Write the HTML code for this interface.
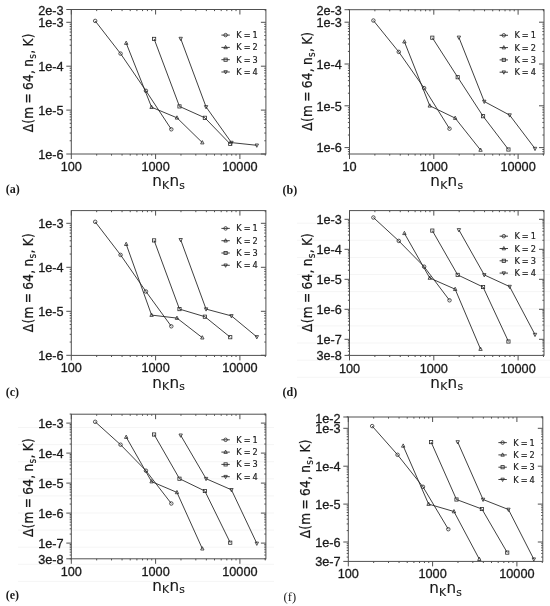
<!DOCTYPE html>
<html lang="en">
<head>
<meta charset="utf-8">
<title>Figure</title>
<style>
html,body{margin:0;padding:0;background:#fff;}
body{width:550px;height:606px;overflow:hidden;}
svg{display:block;}
text{fill:#1a1a1a;}
.tk{font-family:"Liberation Sans",Arial,Helvetica,sans-serif;font-size:12.7px;stroke:#1a1a1a;stroke-width:0.3px;}
.lg{font-family:"DejaVu Sans","Liberation Sans",sans-serif;font-size:8.2px;word-spacing:-0.6px;stroke:#1a1a1a;stroke-width:0.18px;}
.xl{font-family:"DejaVu Sans","Liberation Sans",sans-serif;font-size:15.2px;letter-spacing:0.25px;stroke:#1a1a1a;stroke-width:0.15px;}
.sb{font-size:10.8px;}
.yl{font-family:"DejaVu Sans Condensed","DejaVu Sans","Liberation Sans",sans-serif;font-size:13.5px;word-spacing:-1px;letter-spacing:0.27px;stroke:#1a1a1a;stroke-width:0.2px;}
.sb2{font-size:10px;}
.slr{font-weight:normal !important;font-size:12.5px !important;}
.sl{font-family:"Liberation Serif","DejaVu Serif",serif;font-weight:bold;font-size:12px;}
</style>
</head>
<body>
<svg width="550" height="606" viewBox="0 0 550 606">
<rect width="550" height="606" fill="#ffffff"/>
<path d="M297 223.2H550M297 240.32H550M297 257.44H550M297 274.56H550M297 291.68H550M297 308.8H550M297 325.92H550M297 343.04H550M297 360.16H550M297 377.28H550M18 427.5H274M18 444.6H274M18 461.7H274M18 478.8H274M18 495.9H274M18 513H274M18 530.1H274M18 547.2H274M18 564.3H274M18 581.4H274" stroke="#f5f5f5" stroke-width="1" fill="none"/>
<g>
<path d="M71.3 154v5M71.3 9.5v5M96.68 154v1.6M96.68 9.5v1.6M111.52 154v1.6M111.52 9.5v1.6M122.05 154v1.6M122.05 9.5v1.6M130.22 154v1.6M130.22 9.5v1.6M136.9 154v1.6M136.9 9.5v1.6M142.54 154v1.6M142.54 9.5v1.6M147.43 154v1.6M147.43 9.5v1.6M151.74 154v1.6M151.74 9.5v1.6M155.6 154v5M155.6 9.5v5M180.98 154v1.6M180.98 9.5v1.6M195.82 154v1.6M195.82 9.5v1.6M206.35 154v1.6M206.35 9.5v1.6M214.52 154v1.6M214.52 9.5v1.6M221.2 154v1.6M221.2 9.5v1.6M226.84 154v1.6M226.84 9.5v1.6M231.73 154v1.6M231.73 9.5v1.6M236.04 154v1.6M236.04 9.5v1.6M239.9 154v5M239.9 9.5v5M265.28 154v1.6M265.28 9.5v1.6M71.3 154h-5M265.9 154h-5M71.3 140.78h-1.6M265.9 140.78h-1.6M71.3 133.05h-1.6M265.9 133.05h-1.6M71.3 127.57h-1.6M265.9 127.57h-1.6M71.3 123.32h-1.6M265.9 123.32h-1.6M71.3 119.84h-1.6M265.9 119.84h-1.6M71.3 116.9h-1.6M265.9 116.9h-1.6M71.3 114.35h-1.6M265.9 114.35h-1.6M71.3 112.11h-1.6M265.9 112.11h-1.6M71.3 110.1h-5M265.9 110.1h-5M71.3 96.88h-1.6M265.9 96.88h-1.6M71.3 89.15h-1.6M265.9 89.15h-1.6M71.3 83.67h-1.6M265.9 83.67h-1.6M71.3 79.42h-1.6M265.9 79.42h-1.6M71.3 75.94h-1.6M265.9 75.94h-1.6M71.3 73h-1.6M265.9 73h-1.6M71.3 70.45h-1.6M265.9 70.45h-1.6M71.3 68.21h-1.6M265.9 68.21h-1.6M71.3 66.2h-5M265.9 66.2h-5M71.3 52.98h-1.6M265.9 52.98h-1.6M71.3 45.25h-1.6M265.9 45.25h-1.6M71.3 39.77h-1.6M265.9 39.77h-1.6M71.3 35.52h-1.6M265.9 35.52h-1.6M71.3 32.04h-1.6M265.9 32.04h-1.6M71.3 29.1h-1.6M265.9 29.1h-1.6M71.3 26.55h-1.6M265.9 26.55h-1.6M71.3 24.31h-1.6M265.9 24.31h-1.6M71.3 22.3h-5M265.9 22.3h-5M71.3 9.5h-5" stroke="#505050" stroke-width="1" fill="none"/>
<rect x="71.3" y="9.5" width="194.6" height="144.5" fill="none" stroke="#505050" stroke-width="1"/>
<polyline points="95.18,20.9 120.56,53.6 145.94,90.8 171.31,129.3" fill="none" stroke="#2a2a2a" stroke-width="0.9"/>
<circle cx="95.18" cy="20.9" r="1.75" fill="none" stroke="#2a2a2a" stroke-width="0.8"/>
<circle cx="120.56" cy="53.6" r="1.75" fill="none" stroke="#2a2a2a" stroke-width="0.8"/>
<circle cx="145.94" cy="90.8" r="1.75" fill="none" stroke="#2a2a2a" stroke-width="0.8"/>
<circle cx="171.31" cy="129.3" r="1.75" fill="none" stroke="#2a2a2a" stroke-width="0.8"/>
<polyline points="126.2,43.1 151.58,107.2 176.96,117.8 202.33,142.6" fill="none" stroke="#2a2a2a" stroke-width="0.9"/>
<path d="M124.5 44.4L127.9 44.4L126.2 41.1Z" fill="none" stroke="#2a2a2a" stroke-width="0.8"/>
<path d="M149.88 108.5L153.28 108.5L151.58 105.2Z" fill="none" stroke="#2a2a2a" stroke-width="0.8"/>
<path d="M175.26 119.1L178.66 119.1L176.96 115.8Z" fill="none" stroke="#2a2a2a" stroke-width="0.8"/>
<path d="M200.63 143.9L204.03 143.9L202.33 140.6Z" fill="none" stroke="#2a2a2a" stroke-width="0.8"/>
<polyline points="154.11,38.9 179.48,106.4 204.86,117.8 230.24,144" fill="none" stroke="#2a2a2a" stroke-width="0.9"/>
<rect x="152.51" y="37.3" width="3.2" height="3.2" fill="none" stroke="#2a2a2a" stroke-width="0.8"/>
<rect x="177.88" y="104.8" width="3.2" height="3.2" fill="none" stroke="#2a2a2a" stroke-width="0.8"/>
<rect x="203.26" y="116.2" width="3.2" height="3.2" fill="none" stroke="#2a2a2a" stroke-width="0.8"/>
<rect x="228.64" y="142.4" width="3.2" height="3.2" fill="none" stroke="#2a2a2a" stroke-width="0.8"/>
<polyline points="180.68,38.6 206.06,106.9 231.44,142.6 256.81,145.3" fill="none" stroke="#2a2a2a" stroke-width="0.9"/>
<path d="M178.98 37.3L182.38 37.3L180.68 40.6Z" fill="none" stroke="#2a2a2a" stroke-width="0.8"/>
<path d="M204.36 105.6L207.76 105.6L206.06 108.9Z" fill="none" stroke="#2a2a2a" stroke-width="0.8"/>
<path d="M229.74 141.3L233.14 141.3L231.44 144.6Z" fill="none" stroke="#2a2a2a" stroke-width="0.8"/>
<path d="M255.11 144L258.51 144L256.81 147.3Z" fill="none" stroke="#2a2a2a" stroke-width="0.8"/>
<path d="M221.4 35.1h8.4" stroke="#2a2a2a" stroke-width="0.9" fill="none"/>
<circle cx="225.6" cy="35.1" r="1.75" fill="none" stroke="#2a2a2a" stroke-width="0.8"/>
<text x="236.3" y="38.1" class="lg">K = 1</text>
<path d="M221.4 47.4h8.4" stroke="#2a2a2a" stroke-width="0.9" fill="none"/>
<path d="M223.9 48.7L227.3 48.7L225.6 45.4Z" fill="none" stroke="#2a2a2a" stroke-width="0.8"/>
<text x="236.3" y="50.4" class="lg">K = 2</text>
<path d="M221.4 59.7h8.4" stroke="#2a2a2a" stroke-width="0.9" fill="none"/>
<rect x="224" y="58.1" width="3.2" height="3.2" fill="none" stroke="#2a2a2a" stroke-width="0.8"/>
<text x="236.3" y="62.7" class="lg">K = 3</text>
<path d="M221.4 72h8.4" stroke="#2a2a2a" stroke-width="0.9" fill="none"/>
<path d="M223.9 70.7L227.3 70.7L225.6 74Z" fill="none" stroke="#2a2a2a" stroke-width="0.8"/>
<text x="236.3" y="75" class="lg">K = 4</text>
<text x="63.6" y="15" class="tk" text-anchor="end">2e-3</text>
<text x="63.6" y="27.05" class="tk" text-anchor="end">1e-3</text>
<text x="63.6" y="70.95" class="tk" text-anchor="end">1e-4</text>
<text x="63.6" y="114.85" class="tk" text-anchor="end">1e-5</text>
<text x="63.6" y="158.75" class="tk" text-anchor="end">1e-6</text>
<text x="71.3" y="170.7" class="tk" text-anchor="middle">100</text>
<text x="155.6" y="170.7" class="tk" text-anchor="middle">1000</text>
<text x="239.9" y="170.7" class="tk" text-anchor="middle">10000</text>
<text x="168.7" y="186.3" class="xl" text-anchor="middle">n<tspan class="sb" dy="2.6">K</tspan><tspan dy="-2.6">n</tspan><tspan class="sb" dy="2.6">s</tspan></text>
<text transform="translate(32.6 82.75) rotate(-90)" class="yl" text-anchor="middle">Δ(m = 64, n<tspan class="sb2" dy="3">s</tspan><tspan dy="-3">, K)</tspan></text>
<text x="5.8" y="193.3" class="sl">(a)</text>
</g>
<g>
<path d="M349.5 154v5M349.5 9.7v5M374.88 154v1.6M374.88 9.7v1.6M389.72 154v1.6M389.72 9.7v1.6M400.25 154v1.6M400.25 9.7v1.6M408.42 154v1.6M408.42 9.7v1.6M415.1 154v1.6M415.1 9.7v1.6M420.74 154v1.6M420.74 9.7v1.6M425.63 154v1.6M425.63 9.7v1.6M429.94 154v1.6M429.94 9.7v1.6M433.8 154v5M433.8 9.7v5M459.18 154v1.6M459.18 9.7v1.6M474.02 154v1.6M474.02 9.7v1.6M484.55 154v1.6M484.55 9.7v1.6M492.72 154v1.6M492.72 9.7v1.6M499.4 154v1.6M499.4 9.7v1.6M505.04 154v1.6M505.04 9.7v1.6M509.93 154v1.6M509.93 9.7v1.6M514.24 154v1.6M514.24 9.7v1.6M518.1 154v5M518.1 9.7v5M543.48 154v1.6M543.48 9.7v1.6M349.5 154.07h-1.6M544 154.07h-1.6M349.5 151.65h-1.6M544 151.65h-1.6M349.5 149.51h-1.6M544 149.51h-1.6M349.5 147.6h-5M544 147.6h-5M349.5 135.02h-1.6M544 135.02h-1.6M349.5 127.66h-1.6M544 127.66h-1.6M349.5 122.43h-1.6M544 122.43h-1.6M349.5 118.38h-1.6M544 118.38h-1.6M349.5 115.07h-1.6M544 115.07h-1.6M349.5 112.27h-1.6M544 112.27h-1.6M349.5 109.85h-1.6M544 109.85h-1.6M349.5 107.71h-1.6M544 107.71h-1.6M349.5 105.8h-5M544 105.8h-5M349.5 93.22h-1.6M544 93.22h-1.6M349.5 85.86h-1.6M544 85.86h-1.6M349.5 80.63h-1.6M544 80.63h-1.6M349.5 76.58h-1.6M544 76.58h-1.6M349.5 73.27h-1.6M544 73.27h-1.6M349.5 70.47h-1.6M544 70.47h-1.6M349.5 68.05h-1.6M544 68.05h-1.6M349.5 65.91h-1.6M544 65.91h-1.6M349.5 64h-5M544 64h-5M349.5 51.42h-1.6M544 51.42h-1.6M349.5 44.06h-1.6M544 44.06h-1.6M349.5 38.83h-1.6M544 38.83h-1.6M349.5 34.78h-1.6M544 34.78h-1.6M349.5 31.47h-1.6M544 31.47h-1.6M349.5 28.67h-1.6M544 28.67h-1.6M349.5 26.25h-1.6M544 26.25h-1.6M349.5 24.11h-1.6M544 24.11h-1.6M349.5 22.2h-5M544 22.2h-5M349.5 9.62h-1.6M544 9.62h-1.6M349.5 9.7h-5" stroke="#505050" stroke-width="1" fill="none"/>
<rect x="349.5" y="9.7" width="194.5" height="144.3" fill="none" stroke="#505050" stroke-width="1"/>
<polyline points="373.38,20.5 398.76,51.9 424.14,88.1 449.51,128.7" fill="none" stroke="#2a2a2a" stroke-width="0.9"/>
<circle cx="373.38" cy="20.5" r="1.75" fill="none" stroke="#2a2a2a" stroke-width="0.8"/>
<circle cx="398.76" cy="51.9" r="1.75" fill="none" stroke="#2a2a2a" stroke-width="0.8"/>
<circle cx="424.14" cy="88.1" r="1.75" fill="none" stroke="#2a2a2a" stroke-width="0.8"/>
<circle cx="449.51" cy="128.7" r="1.75" fill="none" stroke="#2a2a2a" stroke-width="0.8"/>
<polyline points="404.4,41.7 429.78,105.8 455.16,118.1 480.53,150" fill="none" stroke="#2a2a2a" stroke-width="0.9"/>
<path d="M402.7 43L406.1 43L404.4 39.7Z" fill="none" stroke="#2a2a2a" stroke-width="0.8"/>
<path d="M428.08 107.1L431.48 107.1L429.78 103.8Z" fill="none" stroke="#2a2a2a" stroke-width="0.8"/>
<path d="M453.46 119.4L456.86 119.4L455.16 116.1Z" fill="none" stroke="#2a2a2a" stroke-width="0.8"/>
<path d="M478.83 151.3L482.23 151.3L480.53 148Z" fill="none" stroke="#2a2a2a" stroke-width="0.8"/>
<polyline points="432.31,37.7 457.68,77.2 483.06,116.2 508.44,149.5" fill="none" stroke="#2a2a2a" stroke-width="0.9"/>
<rect x="430.71" y="36.1" width="3.2" height="3.2" fill="none" stroke="#2a2a2a" stroke-width="0.8"/>
<rect x="456.08" y="75.6" width="3.2" height="3.2" fill="none" stroke="#2a2a2a" stroke-width="0.8"/>
<rect x="481.46" y="114.6" width="3.2" height="3.2" fill="none" stroke="#2a2a2a" stroke-width="0.8"/>
<rect x="506.84" y="147.9" width="3.2" height="3.2" fill="none" stroke="#2a2a2a" stroke-width="0.8"/>
<polyline points="458.88,37.4 484.26,101.5 509.64,115.1 535.01,148.6" fill="none" stroke="#2a2a2a" stroke-width="0.9"/>
<path d="M457.18 36.1L460.58 36.1L458.88 39.4Z" fill="none" stroke="#2a2a2a" stroke-width="0.8"/>
<path d="M482.56 100.2L485.96 100.2L484.26 103.5Z" fill="none" stroke="#2a2a2a" stroke-width="0.8"/>
<path d="M507.94 113.8L511.34 113.8L509.64 117.1Z" fill="none" stroke="#2a2a2a" stroke-width="0.8"/>
<path d="M533.31 147.3L536.71 147.3L535.01 150.6Z" fill="none" stroke="#2a2a2a" stroke-width="0.8"/>
<path d="M499.6 35.3h8.4" stroke="#2a2a2a" stroke-width="0.9" fill="none"/>
<circle cx="503.8" cy="35.3" r="1.75" fill="none" stroke="#2a2a2a" stroke-width="0.8"/>
<text x="514.5" y="38.3" class="lg">K = 1</text>
<path d="M499.6 47.6h8.4" stroke="#2a2a2a" stroke-width="0.9" fill="none"/>
<path d="M502.1 48.9L505.5 48.9L503.8 45.6Z" fill="none" stroke="#2a2a2a" stroke-width="0.8"/>
<text x="514.5" y="50.6" class="lg">K = 2</text>
<path d="M499.6 59.9h8.4" stroke="#2a2a2a" stroke-width="0.9" fill="none"/>
<rect x="502.2" y="58.3" width="3.2" height="3.2" fill="none" stroke="#2a2a2a" stroke-width="0.8"/>
<text x="514.5" y="62.9" class="lg">K = 3</text>
<path d="M499.6 72.2h8.4" stroke="#2a2a2a" stroke-width="0.9" fill="none"/>
<path d="M502.1 70.9L505.5 70.9L503.8 74.2Z" fill="none" stroke="#2a2a2a" stroke-width="0.8"/>
<text x="514.5" y="75.2" class="lg">K = 4</text>
<text x="341.8" y="15.2" class="tk" text-anchor="end">2e-3</text>
<text x="341.8" y="26.95" class="tk" text-anchor="end">1e-3</text>
<text x="341.8" y="68.75" class="tk" text-anchor="end">1e-4</text>
<text x="341.8" y="110.55" class="tk" text-anchor="end">1e-5</text>
<text x="341.8" y="152.35" class="tk" text-anchor="end">1e-6</text>
<text x="349.5" y="170.6" class="tk" text-anchor="middle">10</text>
<text x="433.8" y="170.6" class="tk" text-anchor="middle">1000</text>
<text x="518.1" y="170.6" class="tk" text-anchor="middle">10000</text>
<text x="446.85" y="186.3" class="xl" text-anchor="middle">n<tspan class="sb" dy="2.6">K</tspan><tspan dy="-2.6">n</tspan><tspan class="sb" dy="2.6">s</tspan></text>
<text transform="translate(312.1 81.15) rotate(-90)" class="yl" text-anchor="middle">Δ(m = 64, n<tspan class="sb2" dy="3">s</tspan><tspan dy="-3">, K)</tspan></text>
<text x="282.6" y="194.3" class="sl">(b)</text>
</g>
<g>
<path d="M71.3 355.4v5M71.3 210.6v5M96.68 355.4v1.6M96.68 210.6v1.6M111.52 355.4v1.6M111.52 210.6v1.6M122.05 355.4v1.6M122.05 210.6v1.6M130.22 355.4v1.6M130.22 210.6v1.6M136.9 355.4v1.6M136.9 210.6v1.6M142.54 355.4v1.6M142.54 210.6v1.6M147.43 355.4v1.6M147.43 210.6v1.6M151.74 355.4v1.6M151.74 210.6v1.6M155.6 355.4v5M155.6 210.6v5M180.98 355.4v1.6M180.98 210.6v1.6M195.82 355.4v1.6M195.82 210.6v1.6M206.35 355.4v1.6M206.35 210.6v1.6M214.52 355.4v1.6M214.52 210.6v1.6M221.2 355.4v1.6M221.2 210.6v1.6M226.84 355.4v1.6M226.84 210.6v1.6M231.73 355.4v1.6M231.73 210.6v1.6M236.04 355.4v1.6M236.04 210.6v1.6M239.9 355.4v5M239.9 210.6v5M265.28 355.4v1.6M265.28 210.6v1.6M71.3 355.3h-5M265.9 355.3h-5M71.3 342.05h-1.6M265.9 342.05h-1.6M71.3 334.31h-1.6M265.9 334.31h-1.6M71.3 328.81h-1.6M265.9 328.81h-1.6M71.3 324.55h-1.6M265.9 324.55h-1.6M71.3 321.06h-1.6M265.9 321.06h-1.6M71.3 318.12h-1.6M265.9 318.12h-1.6M71.3 315.56h-1.6M265.9 315.56h-1.6M71.3 313.31h-1.6M265.9 313.31h-1.6M71.3 311.3h-5M265.9 311.3h-5M71.3 298.05h-1.6M265.9 298.05h-1.6M71.3 290.31h-1.6M265.9 290.31h-1.6M71.3 284.81h-1.6M265.9 284.81h-1.6M71.3 280.55h-1.6M265.9 280.55h-1.6M71.3 277.06h-1.6M265.9 277.06h-1.6M71.3 274.12h-1.6M265.9 274.12h-1.6M71.3 271.56h-1.6M265.9 271.56h-1.6M71.3 269.31h-1.6M265.9 269.31h-1.6M71.3 267.3h-5M265.9 267.3h-5M71.3 254.05h-1.6M265.9 254.05h-1.6M71.3 246.31h-1.6M265.9 246.31h-1.6M71.3 240.81h-1.6M265.9 240.81h-1.6M71.3 236.55h-1.6M265.9 236.55h-1.6M71.3 233.06h-1.6M265.9 233.06h-1.6M71.3 230.12h-1.6M265.9 230.12h-1.6M71.3 227.56h-1.6M265.9 227.56h-1.6M71.3 225.31h-1.6M265.9 225.31h-1.6M71.3 223.3h-5M265.9 223.3h-5" stroke="#505050" stroke-width="1" fill="none"/>
<rect x="71.3" y="210.6" width="194.6" height="144.8" fill="none" stroke="#505050" stroke-width="1"/>
<polyline points="95.18,221.8 120.56,254.9 145.94,291.5 171.31,326.3" fill="none" stroke="#2a2a2a" stroke-width="0.9"/>
<circle cx="95.18" cy="221.8" r="1.75" fill="none" stroke="#2a2a2a" stroke-width="0.8"/>
<circle cx="120.56" cy="254.9" r="1.75" fill="none" stroke="#2a2a2a" stroke-width="0.8"/>
<circle cx="145.94" cy="291.5" r="1.75" fill="none" stroke="#2a2a2a" stroke-width="0.8"/>
<circle cx="171.31" cy="326.3" r="1.75" fill="none" stroke="#2a2a2a" stroke-width="0.8"/>
<polyline points="126.2,244.2 151.58,315.1 176.96,318.1 202.33,337.7" fill="none" stroke="#2a2a2a" stroke-width="0.9"/>
<path d="M124.5 245.5L127.9 245.5L126.2 242.2Z" fill="none" stroke="#2a2a2a" stroke-width="0.8"/>
<path d="M149.88 316.4L153.28 316.4L151.58 313.1Z" fill="none" stroke="#2a2a2a" stroke-width="0.8"/>
<path d="M175.26 319.4L178.66 319.4L176.96 316.1Z" fill="none" stroke="#2a2a2a" stroke-width="0.8"/>
<path d="M200.63 339L204.03 339L202.33 335.7Z" fill="none" stroke="#2a2a2a" stroke-width="0.8"/>
<polyline points="154.11,240.4 179.48,309.1 204.86,316.7 230.24,337.2" fill="none" stroke="#2a2a2a" stroke-width="0.9"/>
<rect x="152.51" y="238.8" width="3.2" height="3.2" fill="none" stroke="#2a2a2a" stroke-width="0.8"/>
<rect x="177.88" y="307.5" width="3.2" height="3.2" fill="none" stroke="#2a2a2a" stroke-width="0.8"/>
<rect x="203.26" y="315.1" width="3.2" height="3.2" fill="none" stroke="#2a2a2a" stroke-width="0.8"/>
<rect x="228.64" y="335.6" width="3.2" height="3.2" fill="none" stroke="#2a2a2a" stroke-width="0.8"/>
<polyline points="180.68,239.8 206.06,309.1 231.44,315.9 256.81,336.9" fill="none" stroke="#2a2a2a" stroke-width="0.9"/>
<path d="M178.98 238.5L182.38 238.5L180.68 241.8Z" fill="none" stroke="#2a2a2a" stroke-width="0.8"/>
<path d="M204.36 307.8L207.76 307.8L206.06 311.1Z" fill="none" stroke="#2a2a2a" stroke-width="0.8"/>
<path d="M229.74 314.6L233.14 314.6L231.44 317.9Z" fill="none" stroke="#2a2a2a" stroke-width="0.8"/>
<path d="M255.11 335.6L258.51 335.6L256.81 338.9Z" fill="none" stroke="#2a2a2a" stroke-width="0.8"/>
<path d="M221.4 228.4h8.4" stroke="#2a2a2a" stroke-width="0.9" fill="none"/>
<circle cx="225.6" cy="228.4" r="1.75" fill="none" stroke="#2a2a2a" stroke-width="0.8"/>
<text x="236.3" y="231.4" class="lg">K = 1</text>
<path d="M221.4 240.7h8.4" stroke="#2a2a2a" stroke-width="0.9" fill="none"/>
<path d="M223.9 242L227.3 242L225.6 238.7Z" fill="none" stroke="#2a2a2a" stroke-width="0.8"/>
<text x="236.3" y="243.7" class="lg">K = 2</text>
<path d="M221.4 253h8.4" stroke="#2a2a2a" stroke-width="0.9" fill="none"/>
<rect x="224" y="251.4" width="3.2" height="3.2" fill="none" stroke="#2a2a2a" stroke-width="0.8"/>
<text x="236.3" y="256" class="lg">K = 3</text>
<path d="M221.4 265.3h8.4" stroke="#2a2a2a" stroke-width="0.9" fill="none"/>
<path d="M223.9 264L227.3 264L225.6 267.3Z" fill="none" stroke="#2a2a2a" stroke-width="0.8"/>
<text x="236.3" y="268.3" class="lg">K = 4</text>
<text x="63.6" y="228.05" class="tk" text-anchor="end">1e-3</text>
<text x="63.6" y="272.05" class="tk" text-anchor="end">1e-4</text>
<text x="63.6" y="316.05" class="tk" text-anchor="end">1e-5</text>
<text x="63.6" y="360.05" class="tk" text-anchor="end">1e-6</text>
<text x="71.3" y="372.1" class="tk" text-anchor="middle">100</text>
<text x="155.6" y="372.1" class="tk" text-anchor="middle">1000</text>
<text x="239.9" y="372.1" class="tk" text-anchor="middle">10000</text>
<text x="168.7" y="387.7" class="xl" text-anchor="middle">n<tspan class="sb" dy="2.6">K</tspan><tspan dy="-2.6">n</tspan><tspan class="sb" dy="2.6">s</tspan></text>
<text transform="translate(32.6 282.6) rotate(-90)" class="yl" text-anchor="middle">Δ(m = 64, n<tspan class="sb2" dy="3">s</tspan><tspan dy="-3">, K)</tspan></text>
<text x="5.8" y="395.8" class="sl">(c)</text>
</g>
<g>
<path d="M349.5 355.4v5M349.5 210.6v5M374.88 355.4v1.6M374.88 210.6v1.6M389.72 355.4v1.6M389.72 210.6v1.6M400.25 355.4v1.6M400.25 210.6v1.6M408.42 355.4v1.6M408.42 210.6v1.6M415.1 355.4v1.6M415.1 210.6v1.6M420.74 355.4v1.6M420.74 210.6v1.6M425.63 355.4v1.6M425.63 210.6v1.6M429.94 355.4v1.6M429.94 210.6v1.6M433.8 355.4v5M433.8 210.6v5M459.18 355.4v1.6M459.18 210.6v1.6M474.02 355.4v1.6M474.02 210.6v1.6M484.55 355.4v1.6M484.55 210.6v1.6M492.72 355.4v1.6M492.72 210.6v1.6M499.4 355.4v1.6M499.4 210.6v1.6M505.04 355.4v1.6M505.04 210.6v1.6M509.93 355.4v1.6M509.93 210.6v1.6M514.24 355.4v1.6M514.24 210.6v1.6M518.1 355.4v5M518.1 210.6v5M543.48 355.4v1.6M543.48 210.6v1.6M349.5 354.99h-1.6M544 354.99h-1.6M349.5 351.24h-1.6M544 351.24h-1.6M349.5 348.33h-1.6M544 348.33h-1.6M349.5 345.96h-1.6M544 345.96h-1.6M349.5 343.95h-1.6M544 343.95h-1.6M349.5 342.21h-1.6M544 342.21h-1.6M349.5 340.67h-1.6M544 340.67h-1.6M349.5 339.3h-5M544 339.3h-5M349.5 330.27h-1.6M544 330.27h-1.6M349.5 324.99h-1.6M544 324.99h-1.6M349.5 321.24h-1.6M544 321.24h-1.6M349.5 318.33h-1.6M544 318.33h-1.6M349.5 315.96h-1.6M544 315.96h-1.6M349.5 313.95h-1.6M544 313.95h-1.6M349.5 312.21h-1.6M544 312.21h-1.6M349.5 310.67h-1.6M544 310.67h-1.6M349.5 309.3h-5M544 309.3h-5M349.5 300.27h-1.6M544 300.27h-1.6M349.5 294.99h-1.6M544 294.99h-1.6M349.5 291.24h-1.6M544 291.24h-1.6M349.5 288.33h-1.6M544 288.33h-1.6M349.5 285.96h-1.6M544 285.96h-1.6M349.5 283.95h-1.6M544 283.95h-1.6M349.5 282.21h-1.6M544 282.21h-1.6M349.5 280.67h-1.6M544 280.67h-1.6M349.5 279.3h-5M544 279.3h-5M349.5 270.27h-1.6M544 270.27h-1.6M349.5 264.99h-1.6M544 264.99h-1.6M349.5 261.24h-1.6M544 261.24h-1.6M349.5 258.33h-1.6M544 258.33h-1.6M349.5 255.96h-1.6M544 255.96h-1.6M349.5 253.95h-1.6M544 253.95h-1.6M349.5 252.21h-1.6M544 252.21h-1.6M349.5 250.67h-1.6M544 250.67h-1.6M349.5 249.3h-5M544 249.3h-5M349.5 240.27h-1.6M544 240.27h-1.6M349.5 234.99h-1.6M544 234.99h-1.6M349.5 231.24h-1.6M544 231.24h-1.6M349.5 228.33h-1.6M544 228.33h-1.6M349.5 225.96h-1.6M544 225.96h-1.6M349.5 223.95h-1.6M544 223.95h-1.6M349.5 222.21h-1.6M544 222.21h-1.6M349.5 220.67h-1.6M544 220.67h-1.6M349.5 219.3h-5M544 219.3h-5M349.5 355.4h-5" stroke="#505050" stroke-width="1" fill="none"/>
<rect x="349.5" y="210.6" width="194.5" height="144.8" fill="none" stroke="#505050" stroke-width="1"/>
<polyline points="373.38,217.5 398.76,240.9 424.14,266.7 449.51,300.3" fill="none" stroke="#2a2a2a" stroke-width="0.9"/>
<circle cx="373.38" cy="217.5" r="1.75" fill="none" stroke="#2a2a2a" stroke-width="0.8"/>
<circle cx="398.76" cy="240.9" r="1.75" fill="none" stroke="#2a2a2a" stroke-width="0.8"/>
<circle cx="424.14" cy="266.7" r="1.75" fill="none" stroke="#2a2a2a" stroke-width="0.8"/>
<circle cx="449.51" cy="300.3" r="1.75" fill="none" stroke="#2a2a2a" stroke-width="0.8"/>
<polyline points="404.4,233.3 429.78,278 455.16,289.2 480.53,349.1" fill="none" stroke="#2a2a2a" stroke-width="0.9"/>
<path d="M402.7 234.6L406.1 234.6L404.4 231.3Z" fill="none" stroke="#2a2a2a" stroke-width="0.8"/>
<path d="M428.08 279.3L431.48 279.3L429.78 276Z" fill="none" stroke="#2a2a2a" stroke-width="0.8"/>
<path d="M453.46 290.5L456.86 290.5L455.16 287.2Z" fill="none" stroke="#2a2a2a" stroke-width="0.8"/>
<path d="M478.83 350.4L482.23 350.4L480.53 347.1Z" fill="none" stroke="#2a2a2a" stroke-width="0.8"/>
<polyline points="432.31,230.6 457.68,274.9 483.06,287 508.44,341.5" fill="none" stroke="#2a2a2a" stroke-width="0.9"/>
<rect x="430.71" y="229" width="3.2" height="3.2" fill="none" stroke="#2a2a2a" stroke-width="0.8"/>
<rect x="456.08" y="273.3" width="3.2" height="3.2" fill="none" stroke="#2a2a2a" stroke-width="0.8"/>
<rect x="481.46" y="285.4" width="3.2" height="3.2" fill="none" stroke="#2a2a2a" stroke-width="0.8"/>
<rect x="506.84" y="339.9" width="3.2" height="3.2" fill="none" stroke="#2a2a2a" stroke-width="0.8"/>
<polyline points="458.88,229.9 484.26,274.9 509.64,286.6 535.01,334.6" fill="none" stroke="#2a2a2a" stroke-width="0.9"/>
<path d="M457.18 228.6L460.58 228.6L458.88 231.9Z" fill="none" stroke="#2a2a2a" stroke-width="0.8"/>
<path d="M482.56 273.6L485.96 273.6L484.26 276.9Z" fill="none" stroke="#2a2a2a" stroke-width="0.8"/>
<path d="M507.94 285.3L511.34 285.3L509.64 288.6Z" fill="none" stroke="#2a2a2a" stroke-width="0.8"/>
<path d="M533.31 333.3L536.71 333.3L535.01 336.6Z" fill="none" stroke="#2a2a2a" stroke-width="0.8"/>
<path d="M499.6 236.2h8.4" stroke="#2a2a2a" stroke-width="0.9" fill="none"/>
<circle cx="503.8" cy="236.2" r="1.75" fill="none" stroke="#2a2a2a" stroke-width="0.8"/>
<text x="514.5" y="239.2" class="lg">K = 1</text>
<path d="M499.6 248.5h8.4" stroke="#2a2a2a" stroke-width="0.9" fill="none"/>
<path d="M502.1 249.8L505.5 249.8L503.8 246.5Z" fill="none" stroke="#2a2a2a" stroke-width="0.8"/>
<text x="514.5" y="251.5" class="lg">K = 2</text>
<path d="M499.6 260.8h8.4" stroke="#2a2a2a" stroke-width="0.9" fill="none"/>
<rect x="502.2" y="259.2" width="3.2" height="3.2" fill="none" stroke="#2a2a2a" stroke-width="0.8"/>
<text x="514.5" y="263.8" class="lg">K = 3</text>
<path d="M499.6 273.1h8.4" stroke="#2a2a2a" stroke-width="0.9" fill="none"/>
<path d="M502.1 271.8L505.5 271.8L503.8 275.1Z" fill="none" stroke="#2a2a2a" stroke-width="0.8"/>
<text x="514.5" y="276.1" class="lg">K = 4</text>
<text x="341.8" y="224.05" class="tk" text-anchor="end">1e-3</text>
<text x="341.8" y="254.05" class="tk" text-anchor="end">1e-4</text>
<text x="341.8" y="284.05" class="tk" text-anchor="end">1e-5</text>
<text x="341.8" y="314.05" class="tk" text-anchor="end">1e-6</text>
<text x="341.8" y="344.05" class="tk" text-anchor="end">1e-7</text>
<text x="341.8" y="360.4" class="tk" text-anchor="end">3e-8</text>
<text x="349.5" y="372.5" class="tk" text-anchor="middle">100</text>
<text x="433.8" y="372.5" class="tk" text-anchor="middle">1000</text>
<text x="518.1" y="372.5" class="tk" text-anchor="middle">10000</text>
<text x="446.85" y="387.7" class="xl" text-anchor="middle">n<tspan class="sb" dy="2.6">K</tspan><tspan dy="-2.6">n</tspan><tspan class="sb" dy="2.6">s</tspan></text>
<text transform="translate(311.8 282.4) rotate(-90)" class="yl" text-anchor="middle">Δ(m = 64, n<tspan class="sb2" dy="3">s</tspan><tspan dy="-3">, K)</tspan></text>
<text x="282.6" y="396" class="sl">(d)</text>
</g>
<g>
<path d="M71.3 558.8v5M71.3 414.2v5M96.68 558.8v1.6M96.68 414.2v1.6M111.52 558.8v1.6M111.52 414.2v1.6M122.05 558.8v1.6M122.05 414.2v1.6M130.22 558.8v1.6M130.22 414.2v1.6M136.9 558.8v1.6M136.9 414.2v1.6M142.54 558.8v1.6M142.54 414.2v1.6M147.43 558.8v1.6M147.43 414.2v1.6M151.74 558.8v1.6M151.74 414.2v1.6M155.6 558.8v5M155.6 414.2v5M180.98 558.8v1.6M180.98 414.2v1.6M195.82 558.8v1.6M195.82 414.2v1.6M206.35 558.8v1.6M206.35 414.2v1.6M214.52 558.8v1.6M214.52 414.2v1.6M221.2 558.8v1.6M221.2 414.2v1.6M226.84 558.8v1.6M226.84 414.2v1.6M231.73 558.8v1.6M231.73 414.2v1.6M236.04 558.8v1.6M236.04 414.2v1.6M239.9 558.8v5M239.9 414.2v5M265.28 558.8v1.6M265.28 414.2v1.6M71.3 558.79h-1.6M265.9 558.79h-1.6M71.3 555.04h-1.6M265.9 555.04h-1.6M71.3 552.13h-1.6M265.9 552.13h-1.6M71.3 549.76h-1.6M265.9 549.76h-1.6M71.3 547.75h-1.6M265.9 547.75h-1.6M71.3 546.01h-1.6M265.9 546.01h-1.6M71.3 544.47h-1.6M265.9 544.47h-1.6M71.3 543.1h-5M265.9 543.1h-5M71.3 534.07h-1.6M265.9 534.07h-1.6M71.3 528.79h-1.6M265.9 528.79h-1.6M71.3 525.04h-1.6M265.9 525.04h-1.6M71.3 522.13h-1.6M265.9 522.13h-1.6M71.3 519.76h-1.6M265.9 519.76h-1.6M71.3 517.75h-1.6M265.9 517.75h-1.6M71.3 516.01h-1.6M265.9 516.01h-1.6M71.3 514.47h-1.6M265.9 514.47h-1.6M71.3 513.1h-5M265.9 513.1h-5M71.3 504.07h-1.6M265.9 504.07h-1.6M71.3 498.79h-1.6M265.9 498.79h-1.6M71.3 495.04h-1.6M265.9 495.04h-1.6M71.3 492.13h-1.6M265.9 492.13h-1.6M71.3 489.76h-1.6M265.9 489.76h-1.6M71.3 487.75h-1.6M265.9 487.75h-1.6M71.3 486.01h-1.6M265.9 486.01h-1.6M71.3 484.47h-1.6M265.9 484.47h-1.6M71.3 483.1h-5M265.9 483.1h-5M71.3 474.07h-1.6M265.9 474.07h-1.6M71.3 468.79h-1.6M265.9 468.79h-1.6M71.3 465.04h-1.6M265.9 465.04h-1.6M71.3 462.13h-1.6M265.9 462.13h-1.6M71.3 459.76h-1.6M265.9 459.76h-1.6M71.3 457.75h-1.6M265.9 457.75h-1.6M71.3 456.01h-1.6M265.9 456.01h-1.6M71.3 454.47h-1.6M265.9 454.47h-1.6M71.3 453.1h-5M265.9 453.1h-5M71.3 444.07h-1.6M265.9 444.07h-1.6M71.3 438.79h-1.6M265.9 438.79h-1.6M71.3 435.04h-1.6M265.9 435.04h-1.6M71.3 432.13h-1.6M265.9 432.13h-1.6M71.3 429.76h-1.6M265.9 429.76h-1.6M71.3 427.75h-1.6M265.9 427.75h-1.6M71.3 426.01h-1.6M265.9 426.01h-1.6M71.3 424.47h-1.6M265.9 424.47h-1.6M71.3 423.1h-5M265.9 423.1h-5M71.3 414.07h-1.6M265.9 414.07h-1.6M71.3 558.8h-5" stroke="#505050" stroke-width="1" fill="none"/>
<rect x="71.3" y="414.2" width="194.6" height="144.6" fill="none" stroke="#505050" stroke-width="1"/>
<polyline points="95.18,421.8 120.56,444.7 145.94,470.7 171.31,503.5" fill="none" stroke="#2a2a2a" stroke-width="0.9"/>
<circle cx="95.18" cy="421.8" r="1.75" fill="none" stroke="#2a2a2a" stroke-width="0.8"/>
<circle cx="120.56" cy="444.7" r="1.75" fill="none" stroke="#2a2a2a" stroke-width="0.8"/>
<circle cx="145.94" cy="470.7" r="1.75" fill="none" stroke="#2a2a2a" stroke-width="0.8"/>
<circle cx="171.31" cy="503.5" r="1.75" fill="none" stroke="#2a2a2a" stroke-width="0.8"/>
<polyline points="126.2,437.1 151.58,481.6 176.96,492.4 202.33,548.7" fill="none" stroke="#2a2a2a" stroke-width="0.9"/>
<path d="M124.5 438.4L127.9 438.4L126.2 435.1Z" fill="none" stroke="#2a2a2a" stroke-width="0.8"/>
<path d="M149.88 482.9L153.28 482.9L151.58 479.6Z" fill="none" stroke="#2a2a2a" stroke-width="0.8"/>
<path d="M175.26 493.7L178.66 493.7L176.96 490.4Z" fill="none" stroke="#2a2a2a" stroke-width="0.8"/>
<path d="M200.63 550L204.03 550L202.33 546.7Z" fill="none" stroke="#2a2a2a" stroke-width="0.8"/>
<polyline points="154.11,434.5 179.48,478.7 204.86,491 230.24,542.7" fill="none" stroke="#2a2a2a" stroke-width="0.9"/>
<rect x="152.51" y="432.9" width="3.2" height="3.2" fill="none" stroke="#2a2a2a" stroke-width="0.8"/>
<rect x="177.88" y="477.1" width="3.2" height="3.2" fill="none" stroke="#2a2a2a" stroke-width="0.8"/>
<rect x="203.26" y="489.4" width="3.2" height="3.2" fill="none" stroke="#2a2a2a" stroke-width="0.8"/>
<rect x="228.64" y="541.1" width="3.2" height="3.2" fill="none" stroke="#2a2a2a" stroke-width="0.8"/>
<polyline points="180.68,435.3 206.06,478.7 231.44,489.8 256.81,543.4" fill="none" stroke="#2a2a2a" stroke-width="0.9"/>
<path d="M178.98 434L182.38 434L180.68 437.3Z" fill="none" stroke="#2a2a2a" stroke-width="0.8"/>
<path d="M204.36 477.4L207.76 477.4L206.06 480.7Z" fill="none" stroke="#2a2a2a" stroke-width="0.8"/>
<path d="M229.74 488.5L233.14 488.5L231.44 491.8Z" fill="none" stroke="#2a2a2a" stroke-width="0.8"/>
<path d="M255.11 542.1L258.51 542.1L256.81 545.4Z" fill="none" stroke="#2a2a2a" stroke-width="0.8"/>
<path d="M221.4 439.8h8.4" stroke="#2a2a2a" stroke-width="0.9" fill="none"/>
<circle cx="225.6" cy="439.8" r="1.75" fill="none" stroke="#2a2a2a" stroke-width="0.8"/>
<text x="236.3" y="442.8" class="lg">K = 1</text>
<path d="M221.4 452.1h8.4" stroke="#2a2a2a" stroke-width="0.9" fill="none"/>
<path d="M223.9 453.4L227.3 453.4L225.6 450.1Z" fill="none" stroke="#2a2a2a" stroke-width="0.8"/>
<text x="236.3" y="455.1" class="lg">K = 2</text>
<path d="M221.4 464.4h8.4" stroke="#2a2a2a" stroke-width="0.9" fill="none"/>
<rect x="224" y="462.8" width="3.2" height="3.2" fill="none" stroke="#2a2a2a" stroke-width="0.8"/>
<text x="236.3" y="467.4" class="lg">K = 3</text>
<path d="M221.4 476.7h8.4" stroke="#2a2a2a" stroke-width="0.9" fill="none"/>
<path d="M223.9 475.4L227.3 475.4L225.6 478.7Z" fill="none" stroke="#2a2a2a" stroke-width="0.8"/>
<text x="236.3" y="479.7" class="lg">K = 4</text>
<text x="63.6" y="427.85" class="tk" text-anchor="end">1e-3</text>
<text x="63.6" y="457.85" class="tk" text-anchor="end">1e-4</text>
<text x="63.6" y="487.85" class="tk" text-anchor="end">1e-5</text>
<text x="63.6" y="517.85" class="tk" text-anchor="end">1e-6</text>
<text x="63.6" y="547.85" class="tk" text-anchor="end">1e-7</text>
<text x="63.6" y="563.8" class="tk" text-anchor="end">3e-8</text>
<text x="71.3" y="575.6" class="tk" text-anchor="middle">100</text>
<text x="155.6" y="575.6" class="tk" text-anchor="middle">1000</text>
<text x="239.9" y="575.6" class="tk" text-anchor="middle">10000</text>
<text x="168.7" y="590.8" class="xl" text-anchor="middle">n<tspan class="sb" dy="2.6">K</tspan><tspan dy="-2.6">n</tspan><tspan class="sb" dy="2.6">s</tspan></text>
<text transform="translate(32.6 487.5) rotate(-90)" class="yl" text-anchor="middle">Δ(m = 64, n<tspan class="sb2" dy="3">s</tspan><tspan dy="-3">, K)</tspan></text>
<text x="5.8" y="599" class="sl">(e)</text>
</g>
<g>
<path d="M348.3 561.4v5M348.3 417v5M373.68 561.4v1.6M373.68 417v1.6M388.52 561.4v1.6M388.52 417v1.6M399.05 561.4v1.6M399.05 417v1.6M407.22 561.4v1.6M407.22 417v1.6M413.9 561.4v1.6M413.9 417v1.6M419.54 561.4v1.6M419.54 417v1.6M424.43 561.4v1.6M424.43 417v1.6M428.74 561.4v1.6M428.74 417v1.6M432.6 561.4v5M432.6 417v5M457.98 561.4v1.6M457.98 417v1.6M472.82 561.4v1.6M472.82 417v1.6M483.35 561.4v1.6M483.35 417v1.6M491.52 561.4v1.6M491.52 417v1.6M498.2 561.4v1.6M498.2 417v1.6M503.84 561.4v1.6M503.84 417v1.6M508.73 561.4v1.6M508.73 417v1.6M513.04 561.4v1.6M513.04 417v1.6M516.9 561.4v5M516.9 417v5M542.28 561.4v1.6M542.28 417v1.6M348.3 557.08h-1.6M542.8 557.08h-1.6M348.3 553.41h-1.6M542.8 553.41h-1.6M348.3 550.41h-1.6M542.8 550.41h-1.6M348.3 547.87h-1.6M542.8 547.87h-1.6M348.3 545.67h-1.6M542.8 545.67h-1.6M348.3 543.73h-1.6M542.8 543.73h-1.6M348.3 542h-5M542.8 542h-5M348.3 530.59h-1.6M542.8 530.59h-1.6M348.3 523.92h-1.6M542.8 523.92h-1.6M348.3 519.18h-1.6M542.8 519.18h-1.6M348.3 515.51h-1.6M542.8 515.51h-1.6M348.3 512.51h-1.6M542.8 512.51h-1.6M348.3 509.97h-1.6M542.8 509.97h-1.6M348.3 507.77h-1.6M542.8 507.77h-1.6M348.3 505.83h-1.6M542.8 505.83h-1.6M348.3 504.1h-5M542.8 504.1h-5M348.3 492.69h-1.6M542.8 492.69h-1.6M348.3 486.02h-1.6M542.8 486.02h-1.6M348.3 481.28h-1.6M542.8 481.28h-1.6M348.3 477.61h-1.6M542.8 477.61h-1.6M348.3 474.61h-1.6M542.8 474.61h-1.6M348.3 472.07h-1.6M542.8 472.07h-1.6M348.3 469.87h-1.6M542.8 469.87h-1.6M348.3 467.93h-1.6M542.8 467.93h-1.6M348.3 466.2h-5M542.8 466.2h-5M348.3 454.79h-1.6M542.8 454.79h-1.6M348.3 448.12h-1.6M542.8 448.12h-1.6M348.3 443.38h-1.6M542.8 443.38h-1.6M348.3 439.71h-1.6M542.8 439.71h-1.6M348.3 436.71h-1.6M542.8 436.71h-1.6M348.3 434.17h-1.6M542.8 434.17h-1.6M348.3 431.97h-1.6M542.8 431.97h-1.6M348.3 430.03h-1.6M542.8 430.03h-1.6M348.3 428.3h-5M542.8 428.3h-5M348.3 416.89h-1.6M542.8 416.89h-1.6M348.3 417h-5M348.3 561.4h-5" stroke="#505050" stroke-width="1" fill="none"/>
<rect x="348.3" y="417" width="194.5" height="144.4" fill="none" stroke="#505050" stroke-width="1"/>
<polyline points="372.18,426.1 397.56,454.8 422.94,486.8 448.31,529.2" fill="none" stroke="#2a2a2a" stroke-width="0.9"/>
<circle cx="372.18" cy="426.1" r="1.75" fill="none" stroke="#2a2a2a" stroke-width="0.8"/>
<circle cx="397.56" cy="454.8" r="1.75" fill="none" stroke="#2a2a2a" stroke-width="0.8"/>
<circle cx="422.94" cy="486.8" r="1.75" fill="none" stroke="#2a2a2a" stroke-width="0.8"/>
<circle cx="448.31" cy="529.2" r="1.75" fill="none" stroke="#2a2a2a" stroke-width="0.8"/>
<polyline points="403.2,445.9 428.58,504.1 453.96,511.5 479.33,559.2" fill="none" stroke="#2a2a2a" stroke-width="0.9"/>
<path d="M401.5 447.2L404.9 447.2L403.2 443.9Z" fill="none" stroke="#2a2a2a" stroke-width="0.8"/>
<path d="M426.88 505.4L430.28 505.4L428.58 502.1Z" fill="none" stroke="#2a2a2a" stroke-width="0.8"/>
<path d="M452.26 512.8L455.66 512.8L453.96 509.5Z" fill="none" stroke="#2a2a2a" stroke-width="0.8"/>
<path d="M477.63 560.5L481.03 560.5L479.33 557.2Z" fill="none" stroke="#2a2a2a" stroke-width="0.8"/>
<polyline points="431.11,442.1 456.48,499.5 481.86,509 507.24,552.6" fill="none" stroke="#2a2a2a" stroke-width="0.9"/>
<rect x="429.51" y="440.5" width="3.2" height="3.2" fill="none" stroke="#2a2a2a" stroke-width="0.8"/>
<rect x="454.88" y="497.9" width="3.2" height="3.2" fill="none" stroke="#2a2a2a" stroke-width="0.8"/>
<rect x="480.26" y="507.4" width="3.2" height="3.2" fill="none" stroke="#2a2a2a" stroke-width="0.8"/>
<rect x="505.64" y="551" width="3.2" height="3.2" fill="none" stroke="#2a2a2a" stroke-width="0.8"/>
<polyline points="457.68,442 483.06,499.5 508.44,509.5 533.81,559.2" fill="none" stroke="#2a2a2a" stroke-width="0.9"/>
<path d="M455.98 440.7L459.38 440.7L457.68 444Z" fill="none" stroke="#2a2a2a" stroke-width="0.8"/>
<path d="M481.36 498.2L484.76 498.2L483.06 501.5Z" fill="none" stroke="#2a2a2a" stroke-width="0.8"/>
<path d="M506.74 508.2L510.14 508.2L508.44 511.5Z" fill="none" stroke="#2a2a2a" stroke-width="0.8"/>
<path d="M532.11 557.9L535.51 557.9L533.81 561.2Z" fill="none" stroke="#2a2a2a" stroke-width="0.8"/>
<path d="M498.4 442.6h8.4" stroke="#2a2a2a" stroke-width="0.9" fill="none"/>
<circle cx="502.6" cy="442.6" r="1.75" fill="none" stroke="#2a2a2a" stroke-width="0.8"/>
<text x="513.3" y="445.6" class="lg">K = 1</text>
<path d="M498.4 454.9h8.4" stroke="#2a2a2a" stroke-width="0.9" fill="none"/>
<path d="M500.9 456.2L504.3 456.2L502.6 452.9Z" fill="none" stroke="#2a2a2a" stroke-width="0.8"/>
<text x="513.3" y="457.9" class="lg">K = 2</text>
<path d="M498.4 467.2h8.4" stroke="#2a2a2a" stroke-width="0.9" fill="none"/>
<rect x="501" y="465.6" width="3.2" height="3.2" fill="none" stroke="#2a2a2a" stroke-width="0.8"/>
<text x="513.3" y="470.2" class="lg">K = 3</text>
<path d="M498.4 479.5h8.4" stroke="#2a2a2a" stroke-width="0.9" fill="none"/>
<path d="M500.9 478.2L504.3 478.2L502.6 481.5Z" fill="none" stroke="#2a2a2a" stroke-width="0.8"/>
<text x="513.3" y="482.5" class="lg">K = 4</text>
<text x="340.6" y="422.5" class="tk" text-anchor="end">1e-2</text>
<text x="340.6" y="433.05" class="tk" text-anchor="end">1e-3</text>
<text x="340.6" y="470.95" class="tk" text-anchor="end">1e-4</text>
<text x="340.6" y="508.85" class="tk" text-anchor="end">1e-5</text>
<text x="340.6" y="546.75" class="tk" text-anchor="end">1e-6</text>
<text x="340.6" y="566.4" class="tk" text-anchor="end">3e-7</text>
<text x="348.3" y="577.6" class="tk" text-anchor="middle">100</text>
<text x="432.6" y="577.6" class="tk" text-anchor="middle">1000</text>
<text x="516.9" y="577.6" class="tk" text-anchor="middle">10000</text>
<text x="445.65" y="593.1" class="xl" text-anchor="middle">n<tspan class="sb" dy="2.6">K</tspan><tspan dy="-2.6">n</tspan><tspan class="sb" dy="2.6">s</tspan></text>
<text transform="translate(310.3 488.8) rotate(-90)" class="yl" text-anchor="middle">Δ(m = 64, n<tspan class="sb2" dy="3">s</tspan><tspan dy="-3">, K)</tspan></text>
<text x="283.6" y="601.3" class="sl slr">(f)</text>
</g>
</svg>
</body>
</html>
